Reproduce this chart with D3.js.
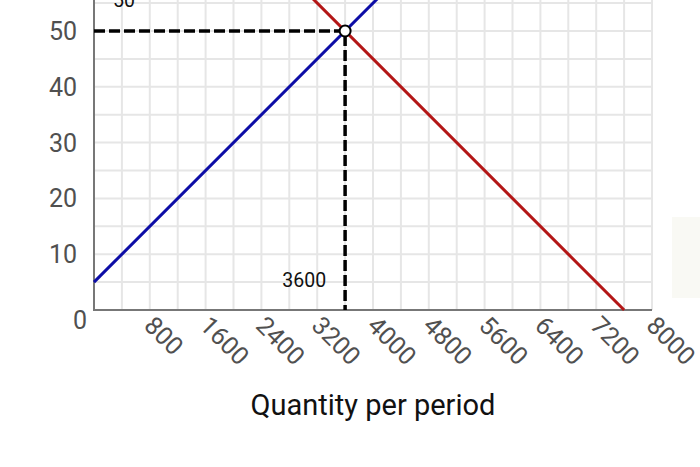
<!DOCTYPE html>
<html>
<head>
<meta charset="utf-8">
<script src="https://cdn.jsdelivr.net/npm/d3@7"></script>
<style>
  body { margin: 0; background: #fff; }
  text { font-family: Roboto, "Noto Sans", sans-serif; }
</style>
</head>
<body>
<script>
const svgWidth = 700
const svgHeight = 467

// data
const supply = [[0, 5], [4400, 60]]
const demand = [[2800, 60], [7600, 0]]
const equilibrium = [3600, 50]
const xTicks = [800, 1600, 2400, 3200, 4000, 4800, 5600, 6400, 7200, 8000]
const yTicks = [0, 10, 20, 30, 40, 50]
const xGrid = d3.range(400, 8001, 400)
const yGrid = d3.range(5, 61, 5)

const x0 = 94
const x1 = 652
const yBase = 310

const colorSupply = "#0d0da6"
const colorDemand = "#b31616"

const svg = d3.select("body").append("svg")
    .attr("width", svgWidth)
    .attr("height", svgHeight)

const x = d3.scaleLinear().domain([0, 8000]).range([x0, x1])
const y = d3.scaleLinear().domain([0, 50]).range([yBase, 31])

// faint box at right edge
svg.append("rect")
    .attr("x", 672).attr("y", 217)
    .attr("width", 30).attr("height", 81)
    .attr("fill", "#f9f9f4")

// grid
svg.append("g").selectAll("line")
    .data(xGrid)
    .join("line")
    .attr("x1", d => x(d)).attr("x2", d => x(d))
    .attr("y1", y(60)).attr("y2", yBase)
    .attr("stroke", "#e6e6e6")
    .attr("stroke-width", 2)

svg.append("g").selectAll("line")
    .data(yGrid)
    .join("line")
    .attr("x1", x0).attr("x2", x1)
    .attr("y1", d => y(d)).attr("y2", d => y(d))
    .attr("stroke", "#e6e6e6")
    .attr("stroke-width", 2)

// axes
svg.append("line")
    .attr("x1", x0).attr("x2", x1)
    .attr("y1", yBase).attr("y2", yBase)
    .attr("stroke", "#777").attr("stroke-width", 2)

svg.append("line")
    .attr("x1", x0).attr("x2", x0)
    .attr("y1", y(60)).attr("y2", yBase + 1)
    .attr("stroke", "#777").attr("stroke-width", 2)

// tick labels
svg.append("g").selectAll("text")
    .data(yTicks)
    .join("text")
    .attr("x", d => d === 0 ? 87 : 77)
    .attr("y", d => d === 0 ? y(d) + 10 : y(d))
    .attr("dy", "0.36em")
    .attr("text-anchor", "end")
    .attr("font-size", 25)
    .attr("fill", "#505050")
    .text(d => d)

svg.append("g").selectAll("text")
    .data(xTicks)
    .join("text")
    .attr("transform", d => `translate(${x(d) - 7}, ${yBase + 17}) rotate(45)`)
    .attr("font-size", 25)
    .attr("fill", "#505050")
    .text(d => d)

svg.append("text")
    .attr("x", (x0 + x1) / 2)
    .attr("y", 415)
    .attr("text-anchor", "middle")
    .attr("font-size", 29)
    .attr("fill", "#111")
    .text("Quantity per period")

// lines
const line = d3.line().x(d => x(d[0])).y(d => y(d[1]))

svg.append("path")
    .attr("d", line(supply))
    .attr("fill", "none")
    .attr("stroke", colorSupply)
    .attr("stroke-width", 3)

svg.append("path")
    .attr("d", line(demand))
    .attr("fill", "none")
    .attr("stroke", colorDemand)
    .attr("stroke-width", 3)

// dashed guides
svg.append("path")
    .attr("d", line([[0, equilibrium[1]], equilibrium, [equilibrium[0], 0]]))
    .attr("fill", "none")
    .attr("stroke", "#000")
    .attr("stroke-width", 3.5)
    .attr("stroke-dasharray", "11,4")

svg.append("circle")
    .attr("cx", x(equilibrium[0]))
    .attr("cy", y(equilibrium[1]))
    .attr("r", 5.5)
    .attr("fill", "#fff")
    .attr("stroke", "#000")
    .attr("stroke-width", 2)

// value labels
svg.append("text")
    .attr("x", x(equilibrium[0]) - 19)
    .attr("y", y(4) - 1)
    .attr("text-anchor", "end")
    .attr("font-size", 19.5)
    .attr("fill", "#111")
    .text(equilibrium[0])

svg.append("text")
    .attr("x", 124)
    .attr("y", 7)
    .attr("text-anchor", "middle")
    .attr("font-size", 19.5)
    .attr("fill", "#111")
    .text(equilibrium[1])
</script>
</body>
</html>
